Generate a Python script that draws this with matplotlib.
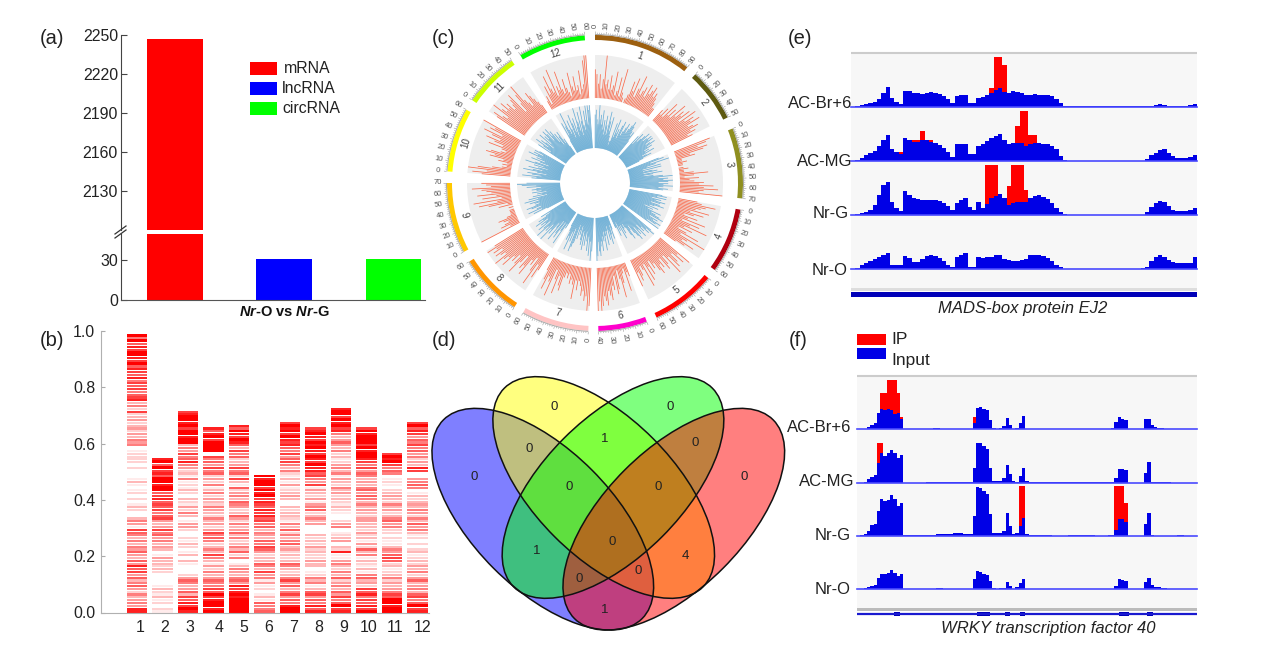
import numpy as np
import matplotlib
matplotlib.use("Agg")
import matplotlib.pyplot as plt
from matplotlib.patches import Ellipse, Rectangle

plt.rcParams.update({
    "font.family": ["Liberation Sans", "DejaVu Sans"],
    "mathtext.fontset": "custom",
    "mathtext.bf": "Liberation Sans:bold",
    "mathtext.bfit": "Liberation Sans:italic:bold",
    "mathtext.rm": "Liberation Sans",
})

W, H = 1268, 648

# (a) counts
RNA_TYPES = ["mRNA", "lncRNA", "circRNA"]
RNA_COUNTS = [2247, 31, 31]
RNA_COLORS = ["#ff0000", "#0000ff", "#00ff00"]
TICKS_HIGH = [2130, 2160, 2190, 2220, 2250]
TICKS_LOW = [0, 30]

# (b) stripe shade per 0.01 of height, bottom to top, 0 (white) .. 9 (full red)
CHROMS = list(range(1, 13))
STRIPES = [
    [8,8,4,5,4,3,5,2,4,6, 5,3,6,4,7,6,8,4,6,3, 4,6,4,5,3,5,3,5,6,7, 1,4,5,3,0,0,2,3,1,0,
     2,0,2,1,0,1,3,1,0,0, 0,2,0,2,2,2,2,1,0,5, 4,5,3,4,2,4,3,2,4,3, 2,7,2,5,3,8,7,6,5,7,
     6,7,5,8,6,7,8,6,9,7, 8,9,9,7,8,6,9,5,9],
    [1,2,0,2,1,3,1,2,3,1, 0,0,0,0,2,3,2,3,3,4, 1,0,3,4,3,5,4,6,5,7, 4,3,4,7,6,5,7,6,7,6,
     8,7,6,9,9,8,9,9,6,8, 7,9,6,9,8],
    [8,9,7,8,6,7,3,6,4,3, 5,6,4,2,0,0,0,1,3,0, 3,1,0,2,3,1,2,0,0,2, 4,4,1,0,3,5,2,4,1,2,
     3,0,2,3,1,2,1,5,1,3, 2,4,5,8,6,5,7,4,5,3, 9,9,8,9,9,7,9,8,9,9,8,7],
    [9,8,9,9,8,7,9,6,7,5, 5,6,4,3,5,2,4,1,3,5, 7,3,5,3,2,5,6,5,7,4, 2,4,3,5,2,3,4,5,2,3,
     4,2,5,3,1,5,2,4,2,6, 5,7,4,6,5,7,0,9,9,9, 9,7,9,8,6,8],
    [9,9,9,9,9,8,9,8,7,8, 4,6,5,3,4,5,3,1,0,5, 2,6,3,5,3,2,5,3,6,4, 3,5,2,4,6,3,2,4,5,6,
     3,5,4,2,6,1,3,7,2,6, 5,7,4,3,2,6,5,7,3,6, 8,9,7,8,9,6,8],
    [6,5,5,6,1,3,1,0,2,1, 4,1,5,4,7,3,5,6,3,3, 2,4,6,7,5,6,3,4,5,3, 6,5,7,6,8,7,8,6,7,8,
     7,9,8,9,7,9,9,8,9],
    [9,9,8,5,6,4,7,5,3,6, 4,7,5,3,2,3,5,6,3,2, 3,2,4,3,6,5,3,5,2,6, 3,5,1,2,3,3,2,3,0,0,
     3,4,3,2,1,4,1,3,1,2, 5,3,5,7,6,4,7,5,6,8, 7,8,9,7,9,8,9,7],
    [8,6,8,5,6,4,7,6,3,1, 5,3,5,2,1,0,3,3,4,2, 2,3,2,4,2,3,2,3,0,0, 0,4,3,5,3,2,6,5,4,1,
     4,2,3,4,1,7,4,5,7,6, 8,8,9,7,8,9,7,8,9,8, 9,7,8,9,8,7],
    [8,7,9,6,5,7,4,6,3,5, 4,2,6,3,5,2,3,5,4,1, 1,8,2,3,0,4,3,2,1,0, 5,4,2,0,0,1,2,3,1,2,
     3,2,4,3,5,2,3,4,1,5, 3,5,4,2,1,3,2,5,3,4, 6,4,3,5,8,7,9,8,9,7, 9,9,8],
    [9,7,8,6,7,5,8,6,7,2, 4,3,6,5,1,3,1,2,3,1, 5,3,6,2,4,1,3,2,4,2, 3,3,4,4,2,3,4,3,5,3,
     5,6,4,6,5,3,4,3,5,6, 4,7,5,7,8,9,9,8,9,7, 9,9,9,8,9,7],
    [9,9,8,9,9,6,7,5,4,3, 4,2,5,3,2,1,3,2,6,7, 6,4,5,3,1,1,2,0,2,2, 5,4,6,5,3,2,4,3,5,2,
     3,4,3,2,0,1,2,1,0,5, 6,5,7,9,8,9,7],
    [8,7,9,6,5,7,6,3,5,4, 3,6,4,2,5,3,4,2,3,2, 1,3,2,0,2,0,2,1,3,5, 4,6,3,5,2,4,5,3,4,3,
     2,3,1,0,5,6,5,4,0,0, 7,8,3,4,2,5,4,6,5,7, 5,6,4,7,8,6,9,7],
]
CHROM_TICK_X = [140, 165, 190, 219, 244, 269, 294, 319, 344, 369, 395, 423]

# (c) sectors clockwise from the top, degrees
SECTOR_START = [0, 42.7, 68.4, 100.4, 130, 159.5, 182.6, 213, 242.3, 274.5, 304, 329.7]
SECTOR_END = [38.6, 63.7, 96, 126, 155.4, 178.7, 209, 238, 270, 299.7, 325.8, 356]
SECTOR_MAX = [90, 50, 70, 60, 60, 40, 60, 60, 70, 60, 50, 60]
SECTOR_COLORS = ["#9c5f0f", "#5e5a10", "#8f8f20", "#b00010", "#ff0000", "#ff00cc",
                 "#ffc4c4", "#ff9500", "#ffc800", "#ffff00", "#ccff00", "#00ff00"]
RED_TRACK = [
    [6,5,3,5,2,4,9,3,4,2,5,2,3,6,1,2,5,1,7,2,1,0,1,2,5,3,6,2,4,7,3,4,5,3,6,4,5,6,4,5,4,3,2,2],
    [3,2,4,2,6,3,5,3,7,4,6,5,7,4,8,5,7,6,8,5,6,7,5,6,4,5],
    [8,7,5,7,6,3,4,1,1,2,1,1,0,1,2,1,1,3,6,3,1,4,2,3,5,4,7,5,8,5,4,9],
    [4,5,8,6,5,4,7,3,6,4,2,5,3,7,2,6,4,8,3,5,2,4,7,3,9,5,4,7,5,3],
    [8,5,7,4,6,7,4,8,3,5,6,3,5,4,6,5,3,4,2,5,3,6,2,7,3,2,4,5,3,6],
    [3,2,6,1,2,4,7,3,1,5,6,2,5,4,7,6,5,8,7,6,8,9,7,9],
    [8,9,6,7,5,6,4,3,5,3,7,4,3,4,2,3,2,3,6,5,3,7,4,2,8,5,4,7,5,3],
    [4,6,3,8,5,2,4,3,7,5,6,3,5,8,6,4,6,5,8,6,7,9,6,7,8,6,8,7,9,7],
    [9,2,4,3,2,3,4,2,1,1,1,1,0,1,0,3,1,5,7,3,8,2,6,3,7,4,5,6,8,4,5,6],
    [6,8,5,9,7,4,2,1,2,1,3,2,5,4,6,5,3,2,3,6,3,5,7,4,6,8,4,7,6,9],
    [7,8,6,5,9,7,6,8,6,7,5,6,7,8,3,5,7,9,5,4,3,6,5,4,3,2],
    [2,3,1,5,3,7,4,3,8,2,4,3,7,3,2,5,3,2,1,6,3,2,5,2,3,1,6,2,3,8,9,9],
]
BLUE_TRACK = [
    [7,8,6,5,9,6,7,5,8,4,6,3,7,5,3,8,6,4,7,3,2,1,2,6,3,7,4,5,3,6,7,4,5,6,7,5,6,7,8,7,6,5,6,4],
    [6,4,7,5,6,7,8,6,7,8,7,8,6,7,8,6,7,5,6,5,7,4,5,6,4,3],
    [7,8,5,9,6,4,7,3,7,3,5,6,3,7,5,3,5,7,9,6,8,7,9,8,6,8,7,9,7,6,8,7],
    [7,8,6,8,5,7,6,8,7,5,7,8,6,5,7,4,6,5,8,6,7,8,9,6,8,7,9,8,6,9],
    [8,9,7,8,6,7,5,8,6,7,5,8,7,6,4,5,7,6,4,3,4,5,3,6,3,4,2,5,3,3],
    [3,5,2,4,6,3,5,2,3,6,3,4,7,3,5,4,7,5,6,8,7,5,8,9],
    [7,9,5,8,4,7,5,3,6,4,7,3,6,5,2,4,3,5,2,6,7,8,3,6,4,8,5,6,4,3],
    [4,3,8,5,3,7,6,3,8,5,4,7,6,9,5,7,6,9,7,5,8,6,7,5,8,6,7,5,4,6],
    [4,7,5,8,6,5,7,8,6,5,6,7,5,8,5,7,3,6,4,5,3,6,4,5,6,5,4,7,5,8,9,7],
    [6,5,8,4,6,7,3,5,8,6,4,7,5,3,6,4,8,6,3,5,7,4,6,5,8,6,7,5,7,6],
    [7,4,6,8,5,7,6,4,8,5,7,6,8,7,5,8,6,7,4,6,3,5,6,3,4,2],
    [3,7,4,6,9,5,4,7,5,3,8,6,4,7,3,5,9,6,4,8,3,6,9,5,4,8,6,9,5,9,8,9],
]

# (d) overlap counts
VENN_COUNTS = [0, 0, 0, 0, 0, 0, 1, 0, 0, 1, 4, 0, 0, 0, 1]

# (e) coverage, one value per bin
E_NAMES = ["AC-Br+6", "AC-MG", "Nr-G", "Nr-O"]
E_INPUT = [
    [0,1,4,7,10,15,24,42,58,26, 14,8,47,46,42,40,38,42,44,42, 38,32,24,10,32,35,35,12,10,26,
     30,34,42,50,56,44,42,46,44,40, 36,36,38,36,36,36,32,24,12,2,
     1,1,1,1,1,1,1,1,1,1,1,1,1,1,1,1,1,1,1, 2,5,7,6,3,2,2,2,3,4,7],
    [0,2,10,18,24,30,44,62,78,35, 26,20,70,64,56,58,62,62,58,54, 48,40,28,12,50,52,52,22,22,45,
     50,60,70,75,80,62,52,55,55,55, 45,50,55,55,50,50,45,35,15,2,
     1,1,1,1,1,1,1,1,1,1,1,1,1,1,1,1,1,1, 5,18,25,33,35,25,14,10,10,10,11,18],
    [0,2,6,10,14,30,60,90,100,40, 22,12,72,60,52,48,46,44,44,46, 42,36,26,14,35,45,50,25,15,38,
     22,34,50,58,62,50,30,35,38,38, 38,50,58,60,55,48,35,22,10,2,
     1,1,1,1,1,1,1,1,1,1,1,1,1,1,1,1,1,1, 8,25,35,42,40,26,16,12,12,12,14,20],
    [0,4,14,20,26,32,38,42,50,14, 12,12,40,35,22,22,32,40,44,40, 34,24,12,8,36,44,48,8,8,36,
     34,36,38,44,42,30,28,26,26,28, 32,42,44,44,40,34,24,14,6,1,
     1,1,1,1,1,1,1,1,1,1,1,1,1,1,1,1, 2,3, 6,26,38,44,38,28,22,20,18,18,18,38],
]
E_IP = [
    {32: 55, 33: 150, 34: 150, 35: 125},
    {10: 28, 11: 28, 14: 63, 15: 63, 16: 90, 17: 63, 18: 63, 38: 105, 39: 150, 40: 150, 41: 78, 42: 78},
    {31: 150, 32: 150, 33: 150, 36: 88, 37: 150, 38: 150, 39: 150, 40: 75},
    {},
]

# (f) coverage, one value per bin
F_NAMES = ["AC-Br+6", "AC-MG", "Nr-G", "Nr-O"]
F_INPUT = [
    [0,0,2,8,14,18,48,62,58,60,58,45,50,30, 0,0,0,0,0,0,1,2,2,3,3,2,2,1,1,1,1,1,1,1,1,
     20,65,67,62,58,28,3,2,3,10,33,12,2,3,18,40,
     1,1,1,1,1,2,2,2,1,1,1,1,1,1,1,1,1,1,1,1,1,1,1,1,1,2,3,
     22,38,32,28, 0,0,0,0,2, 30,32,12,7,5,4,2,1, 0,0,0,0,0,0,0,0],
    [0,0,3,12,18,22,60,88,80,90,98,90,75,82, 0,0,0,0,0,0,0,1,2,3,3,3,3,3,3,3,3,2,2,2,2,
     45,118,118,110,100,45,5,5,5,15,52,25,5,3,20,45,
     5,1,1,1,1,1,1,1,1,1,1,1,1,1,1,1,1,1,1,2,2,1,1,1,1,1,1,
     15,42,40,38, 0,0,0,0,0, 28,62,1,1,1,1,1,1, 0,0,0,0,0,0,0,0],
    [0,2,5,14,32,36,75,112,105,108,122,110,90,98, 3,2,2,2,2,2,2,3,4,4,5,5,6,7,7,8,8,8,7,7,7,
     60,148,145,135,125,65,10,8,8,14,68,30,5,8,30,55,
     5,3,3,2,2,2,2,2,1,1,1,1,1,2,2,3,4,4,3,2,2,1,1,1,1,2,3,
     18,52,50,42, 1,1,1,1,0, 35,68,2,1,1,1,1,1, 1,1,2,2,1,1,1,1],
    [0,0,3,6,10,14,35,45,47,50,58,48,40,45, 1,1,0,0,0,0,0,1,2,2,3,3,2,1,1,0,0,0,0,0,0,
     30,55,52,45,42,25,3,2,3,5,22,10,2,8,20,30,
     2,1,1,1,1,1,1,1,1,1,1,1,1,1,1,1,1,1,1,2,2,1,1,1,1,1,2,
     10,30,28,25, 0,0,0,0,2, 22,35,12,8,6,5,3,1, 0,0,0,0,0,0,0,0],
]
F_IP = [
    {7: 108, 8: 108, 9: 148, 10: 148, 11: 148, 12: 110, 13: 38, 35: 38},
    {6: 120, 7: 120},
    {49: 150, 50: 150, 78: 150, 79: 150, 80: 150, 81: 98},
    {},
]
F_EXONS = [(110, 130), (360, 400), (445, 460), (490, 505), (785, 815), (870, 888)]


fig = plt.figure(figsize=(W / 100, H / 100), dpi=100, facecolor="white")


def px_axes(x0, y0, x1, y1, **kw):
    return fig.add_axes([x0 / W, 1 - y1 / H, (x1 - x0) / W, (y1 - y0) / H], **kw)


# ---- (a) broken bar chart
ax_hi = px_axes(120.7, 35, 425, 230)
ax_lo = px_axes(120.7, 234, 425, 300)
for ax in (ax_hi, ax_lo):
    ax.bar(range(3), RNA_COUNTS, width=0.51, color=RNA_COLORS, linewidth=0)
    ax.set_xlim(-0.5, 2.29)
    ax.set_xticks([])
    ax.patch.set_alpha(0)
    for sp in ("top", "right"):
        ax.spines[sp].set_visible(False)
    ax.spines["left"].set_color("#444444")
    ax.tick_params(axis="y", direction="in", labelsize=11.4, length=4, pad=2, color="#444444",
                   labelcolor="#222222")
ax_hi.set_ylim(2100, 2250)
ax_hi.set_yticks(TICKS_HIGH)
ax_hi.spines["bottom"].set_visible(False)
ax_lo.set_ylim(0, 50)
ax_lo.set_yticks(TICKS_LOW)
ax_lo.spines["bottom"].set_color("#555555")

# ---- (b) stripe bars
ax_b = px_axes(100.7, 331, 429, 612.5)
for c, shades in zip(CHROMS, STRIPES):
    for k, s in enumerate(shades):
        if s:
            # solid runs touch, paler stripes keep a thin white gap as in the original
            h = 0.01 if s == 9 else 0.0075
            ax_b.bar(c, h, bottom=k * 0.01, width=0.804, color=(1, 0, 0, (s / 9) ** 1.15), linewidth=0)
ax_b.set_xlim(-0.42, 12.45)
ax_b.set_ylim(0, 1.0)
ax_b.set_xticks([])
ax_b.set_yticks([0, 0.2, 0.4, 0.6, 0.8, 1.0])
ax_b.tick_params(axis="y", direction="in", labelsize=11.4, length=3, pad=4, color="#aaaaaa",
                 labelcolor="#222222")
for sp in ("top", "right"):
    ax_b.spines[sp].set_visible(False)
for sp in ("left", "bottom"):
    ax_b.spines[sp].set_color("#b0b0b0")

# ---- (c) circular tracks
R_OUT = 165
ax_c = px_axes(595 - R_OUT, 183 - R_OUT, 595 + R_OUT, 183 + R_OUT, projection="polar")
ax_c.set_theta_zero_location("N")
ax_c.set_theta_direction(-1)
ax_c.set_ylim(0, R_OUT)
ax_c.axis("off")
ax_c.patch.set_alpha(0)
for i, (a0, a1) in enumerate(zip(SECTOR_START, SECTOR_END)):
    t0, t1 = np.radians(a0), np.radians(a1)
    mid, span = (t0 + t1) / 2, t1 - t0
    ax_c.bar(mid, 43, width=span, bottom=85, color="#eeeeee", linewidth=0)
    ax_c.bar(mid, 43, width=span, bottom=35, color="#eeeeee", linewidth=0)
    ax_c.bar(mid, 5, width=span, bottom=143, color=SECTOR_COLORS[i], linewidth=0)
    ax_c.bar(mid, 1, width=span, bottom=148, color="#aaaaaa", linewidth=0)
    th = np.linspace(t0 + 0.003, t1 - 0.003, len(RED_TRACK[i]))
    ax_c.vlines(th, 85, 85 + np.array(RED_TRACK[i]) / 9 * 43, color="#f9694a", lw=0.55)
    th = np.linspace(t0 + 0.003, t1 - 0.003, len(BLUE_TRACK[i]))
    ax_c.vlines(th, 35, 35 + np.array(BLUE_TRACK[i]) / 9 * 43, color="#6aaed6", lw=0.55)
    # scale ticks and numbers
    top = SECTOR_MAX[i]
    for v in range(0, top + 1, 2):
        ax_c.vlines(t0 + (t1 - t0) * v / top, 149, 151.5 if v % 10 == 0 else 150.3,
                    color="#999999", lw=0.4)
    for v in range(0, top + 1, 10):
        a = a0 + (a1 - a0) * v / top
        rot = 90 - a if a < 180 else 270 - a
        ax_c.text(np.radians(a), 157.5, str(v), fontsize=5.5, color="#555555", ha="center",
                  va="center", rotation=rot, rotation_mode="anchor")
    am = (a0 + a1) / 2
    rot = -am if (am < 90 or am > 270) else 180 - am
    ax_c.text(mid, 135, str(i + 1), fontsize=7, color="#444444", ha="center", va="center",
              rotation=rot, rotation_mode="anchor")

# ---- (e) and (f) coverage tracks
def draw_tracks(x0, x1, bases, inputs, ips, step):
    for base, cov, ip in zip(bases, inputs, ips):
        ax = px_axes(x0, base - 50, x1, base)
        red = np.zeros(len(cov))
        for k, v in ip.items():
            red[k] = v
        xs = np.arange(len(cov) + 1) * step
        ax.fill_between(xs, np.append(red, red[-1]), step="post", color="#ff0000", linewidth=0)
        ax.fill_between(xs, np.append(cov, cov[-1]), step="post", color="#0000e6", linewidth=0)
        ax.axhline(0, color="#4a4aff", lw=1.2, clip_on=False)
        ax.set_xlim(0, len(cov) * step)
        ax.set_ylim(0, 150)
        ax.axis("off")


ax_bg_e = px_axes(851, 53, 1197, 288)
ax_bg_f = px_axes(857, 376, 1197, 608)
for ax in (ax_bg_e, ax_bg_f):
    ax.set_facecolor("#f7f7f7")
    ax.set_xticks([])
    ax.set_yticks([])
    for sp in ax.spines.values():
        sp.set_visible(False)

E_BASES = [106.7, 161, 215, 269.3]
F_BASES = [429.3, 482.7, 536, 589.3]
draw_tracks(851, 1197, E_BASES, E_INPUT, E_IP, 13)
draw_tracks(857, 1197, F_BASES, F_INPUT, F_IP, 10)

# ---- overlay in picture pixels: (d), legends, labels
ov = fig.add_axes([0, 0, 1, 1], zorder=10)
ov.set_xlim(0, W)
ov.set_ylim(H, 0)
ov.axis("off")
ov.patch.set_alpha(0)

for (cx, cy, ang, col) in [(542.8, 519.2, 45, "#0000ff"), (603.7, 487.5, 45, "#ffff00"),
                           (613, 487.5, -45, "#00ff00"), (673.8, 519.2, -45, "#ff0000")]:
    ov.add_patch(Ellipse((cx, cy), 281, 139, angle=ang, facecolor=matplotlib.colors.to_rgba(col, 0.5),
                         edgecolor="none"))
for (cx, cy, ang) in [(542.8, 519.2, 45), (603.7, 487.5, 45), (613, 487.5, -45), (673.8, 519.2, -45)]:
    ov.add_patch(Ellipse((cx, cy), 281, 139, angle=ang, facecolor="none", edgecolor="#111111", lw=1.1))

VENN_XY = [(554.3, 406.7), (670, 407.3), (474.3, 476.7), (744, 476.7), (529, 449.3), (695, 442.7),
           (604.3, 439.3), (569, 486.7), (658.3, 487.3), (536.3, 550.7), (685, 555.7), (611.7, 542.3),
           (579.3, 579.3), (638.3, 571.3), (605, 610)]
for (x, y), n in zip(VENN_XY, VENN_COUNTS):
    ov.text(x, y, str(n), fontsize=9.5, color="#222222", ha="center", va="center")

# (a) legend, break marks and caption
for y, lab, col, tx in zip([62, 82, 102], RNA_TYPES, RNA_COLORS, [284, 282, 282]):
    ov.add_patch(Rectangle((250, y), 27, 13, facecolor=col, edgecolor="none"))
    ov.text(tx, y + 6.5, lab, fontsize=11.4, color="#222222", ha="left", va="center")
for dy in (-2, 2):
    ov.plot([115, 126], [236 + dy, 228 + dy], color="#333333", lw=0.9)
ov.text(284, 312, r"$\bfit{Nr}$-O vs $\bfit{Nr}$-G", fontsize=10.5, fontweight="bold",
        color="#111111", ha="center", va="center")

# (b) category labels
for x, c in zip(CHROM_TICK_X, CHROMS):
    ov.text(x, 628, str(c), fontsize=11.4, color="#222222", ha="center", va="center")

# panel letters
for x, y, s in [(52, 39, "(a)"), (52, 341, "(b)"), (443, 39, "(c)"), (444, 340, "(d)"),
                (800, 39, "(e)"), (798, 341, "(f)")]:
    ov.text(x, y, s, fontsize=14.5, color="#222222", ha="center", va="center")

# (e) and (f) labels, ruler bands and genes
for x, y, s in zip([852.6, 852.7, 849, 847.7], [103, 162, 214, 270.7], E_NAMES):
    ov.text(x, y, s, fontsize=12, color="#222222", ha="right", va="center")
for x, y, s in zip([851, 854, 850.7, 850.7], [427.7, 481, 535, 589], F_NAMES):
    ov.text(x, y, s, fontsize=12, color="#222222", ha="right", va="center")
ov.hlines(53, 851, 1197, color="#cccccc", lw=1.5)
ov.hlines(376, 857, 1197, color="#cccccc", lw=1.5)
ov.add_patch(Rectangle((851, 288), 346, 3, facecolor="#dddddd", edgecolor="none"))
ov.add_patch(Rectangle((857, 608), 340, 2.5, facecolor="#bbbbbb", edgecolor="none"))
ov.add_patch(Rectangle((851, 292.3), 346, 4.2, facecolor="#0000b8", edgecolor="none"))
ov.hlines(614, 857, 1197, color="#1a1ad0", lw=1.6)
for s, e in F_EXONS:
    ov.add_patch(Rectangle((857 + s / 3, 612), (e - s) / 3, 4, facecolor="#0000b8", edgecolor="none"))
ov.text(1023, 308, "MADS-box protein EJ2", fontsize=12, style="italic", color="#222222",
        ha="center", va="center")
ov.text(1048, 628, "WRKY transcription factor 40", fontsize=12, style="italic", color="#222222",
        ha="center", va="center")
ov.add_patch(Rectangle((857, 334), 29, 11, facecolor="#ff0000", edgecolor="none"))
ov.add_patch(Rectangle((857, 348), 29, 10.5, facecolor="#0000e6", edgecolor="none"))
ov.text(891, 339, "IP", fontsize=12.5, color="#222222", ha="left", va="center")
ov.text(891, 360, "Input", fontsize=12.5, color="#222222", ha="left", va="center")

fig.savefig("out.png", dpi=100)
